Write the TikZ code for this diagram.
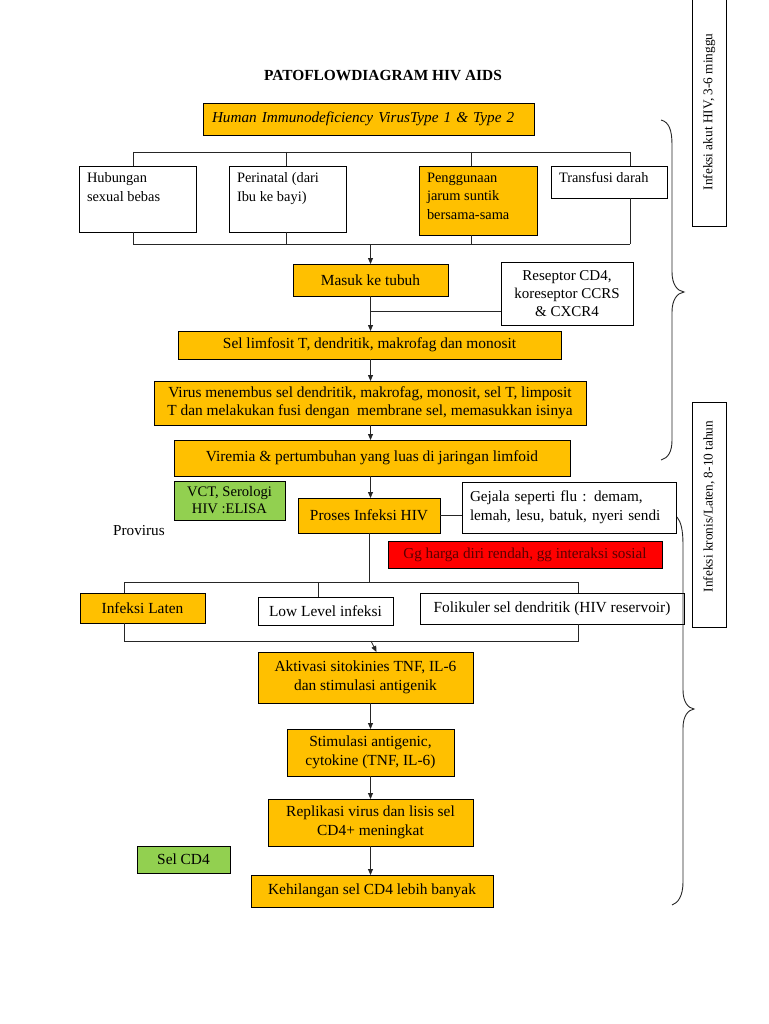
\documentclass[tikz,border=0pt]{standalone}
\usepackage{fontspec}
\setmainfont{Liberation Serif}
\usetikzlibrary{arrows.meta,calc}
\definecolor{gold}{HTML}{FFC000}
\definecolor{lgreen}{HTML}{92D050}
\definecolor{dred}{HTML}{5A0000}
\begin{document}
\begin{tikzpicture}[x=1pt,y=-1pt,
  box/.style={draw=black, line width=0.8pt, anchor=north west, inner sep=0pt, outer sep=0pt, align=center, font=\fontsize{15.4}{19}\selectfont},
  sz/.style 2 args={minimum width=#1pt, minimum height=#2pt},
  yel/.style={box, fill=gold},
  grn/.style={box, fill=lgreen},
  wht/.style={box, fill=white},
  conn/.style={draw=black!85, line width=0.8pt},
  arr/.style={conn, -{Triangle[length=6pt,width=5pt]}},
  brace/.style={draw=black!85, line width=0.9pt},
  sidebox/.style={draw=black, line width=0.8pt, fill=white, rotate=90, inner sep=0pt, font=\fontsize{13.3}{15}\selectfont}
]
\useasboundingbox[fill=white] (0,0) rectangle (768,1024);

% title and top box
\node[font=\fontsize{15.4}{19}\selectfont\bfseries] (title) at (383,76) {PATOFLOWDIAGRAM HIV AIDS};
\node[yel, sz={331}{32}, text width=313pt, align=left, font=\fontsize{15.2}{19}\selectfont\itshape] (hiv) at (203,103) {Human Immunodeficiency VirusType 1 \& Type 2};

% source boxes
\node[wht, sz={117}{66}] (s1) at (79,166) {\parbox[c][52pt][t]{101pt}{\raggedright\fontsize{14.4}{18.5}\selectfont Hubungan\\sexual bebas}};
\node[wht, sz={117}{66}] (s2) at (229,166) {\parbox[c][52pt][t]{101pt}{\raggedright\fontsize{14.4}{18.5}\selectfont Perinatal (dari\\Ibu ke bayi)}};
\node[yel, sz={118}{69}] (s3) at (419,166) {\parbox[c][55pt][t]{102pt}{\raggedright\fontsize{14.4}{18.5}\selectfont Penggunaan\\jarum suntik\\bersama-sama}};
\node[wht, sz={116}{32}] (s4) at (551,166) {\parbox[c][20pt][t]{100pt}{\raggedright\fontsize{14.4}{18.5}\selectfont Transfusi darah}};

% buses around sources
\coordinate (t1) at (133,152);
\coordinate (t2) at (286,152);
\coordinate (t3) at (471,152);
\coordinate (t4) at (630,152);
\coordinate (u1) at (133,244);
\coordinate (u4) at (630,244);
\draw[conn] (t1) -- (t4);
\draw[conn] (t1) -- (t1 |- s1.north);
\draw[conn] (t2) -- (t2 |- s2.north);
\draw[conn] (t3) -- (t3 |- s3.north);
\draw[conn] (t4) -- (t4 |- s4.north);
\draw[conn] (u1) -- (u4);
\draw[conn] (t1 |- s1.south) -- (u1);
\draw[conn] (t2 |- s2.south) -- (t2 |- u1);
\draw[conn] (t3 |- s3.south) -- (t3 |- u1);
\draw[conn] (t4 |- s4.south) -- (u4);

% main column
\node[yel, sz={155}{32}] (masuk) at (293,264) {Masuk ke tubuh};
\node[wht, sz={132}{63}, font=\fontsize{15}{18}\selectfont] (resep) at (501,262) {Reseptor CD4,\\koreseptor CCRS\\\& CXCR4};
\node[yel, sz={383}{28}] (limfo) at (178,331) {Sel limfosit T, dendritik, makrofag dan monosit};
\node[yel, sz={432}{44}, font=\fontsize{15.4}{18}\selectfont] (virus) at (154,381) {Virus menembus sel dendritik, makrofag, monosit, sel T, limposit\\T dan melakukan fusi dengan\ \ membrane sel, memasukkan isinya};
\node[yel, sz={396}{36}] (virem) at (174,440) {Viremia \& pertumbuhan yang luas di jaringan limfoid};
\node[grn, sz={111}{39}, font=\fontsize{14.6}{17}\selectfont] (vct) at (174,481) {VCT, Serologi\\HIV :ELISA};
\node[yel, sz={142}{35}] (proses) at (298,498) {Proses Infeksi HIV};
\node[wht, sz={214}{51}, text width=198pt, align=left, font=\fontsize{15.2}{19}\selectfont] (gejala) at (462,482) {Gejala seperti flu : demam,\\lemah, lesu, batuk, nyeri sendi};
\node[anchor=west, inner sep=0pt, font=\fontsize{15.2}{19}\selectfont] (prov) at (113,531) {Provirus};
\node[box, fill=red, sz={274}{27}, text=dred, font=\fontsize{15.2}{19}\selectfont] (gg) at (388,541) {Gg harga diri rendah, gg interaksi sosial};

\draw[arr] (u1 -| masuk.north) -- (masuk.north);
\coordinate (r1) at (501,311);
\draw[arr] (masuk.south) -- (masuk.south |- limfo.north);
\draw[conn] (resep.west |- r1) -- (masuk.south |- r1);
\draw[arr] (limfo.south -| masuk.south) -- (masuk.south |- virus.north);
\draw[arr] (virus.south -| masuk.south) -- (masuk.south |- virem.north);
\draw[arr] (virem.south -| masuk.south) -- (masuk.south |- proses.north);
\draw[conn] (proses.east) -- (proses.east -| gejala.west);

% second level
\node[yel, sz={125}{30}] (laten) at (80,593) {Infeksi Laten};
\node[wht, sz={135}{28}] (low) at (258,597) {Low Level infeksi};
\node[wht, sz={264}{31}] (folik) at (420,593) {Folikuler sel dendritik (HIV reservoir)};

\coordinate (p1) at (124,582);
\coordinate (pm) at (318,582);
\coordinate (p2) at (578,582);
\draw[conn] (proses.south) -- (proses.south |- p1);
\draw[conn] (p1) -- (p2);
\draw[conn] (p1) -- (p1 |- laten.north);
\draw[conn] (pm) -- (pm |- low.north);
\draw[conn] (p2) -- (p2 |- folik.north);
\coordinate (q1) at (124,641);
\coordinate (q2) at (578,641);
\coordinate (q3) at (371,641);
\draw[conn] (q1 |- laten.south) -- (q1) -- (q2) -- (q2 |- folik.south);

% lower column
\node[yel, sz={215}{51}] (aktiv) at (258,652) {Aktivasi sitokinies TNF, IL-6\\dan stimulasi antigenik};
\node[yel, sz={167}{47}] (stim) at (287,729) {Stimulasi antigenic,\\cytokine (TNF, IL-6)};
\node[yel, sz={205}{47}] (repl) at (268,799) {Replikasi virus dan lisis sel\\CD4+ meningkat};
\node[yel, sz={242}{32}] (kehil) at (251,875) {Kehilangan sel CD4 lebih banyak};
\node[grn, sz={93}{27}] (cd4) at (137,846) {Sel CD4};

\draw[arr] (q3) -- ([xshift=11pt]aktiv.north);
\draw[arr] (stim.north |- aktiv.south) -- (stim.north);
\draw[arr] (stim.south) -- (stim.south |- repl.north);
\draw[arr] (stim.south |- repl.south) -- (stim.south |- kehil.north);

% side boxes
\node[sidebox, minimum width=229pt, minimum height=34pt] (side1) at (709,112) {Infeksi akut HIV, 3-6 minggu};
\node[sidebox, minimum width=225pt, minimum height=34pt] (side2) at (709,514.5) {\hspace*{16pt}Infeksi kronis/Laten, 8-10 tahun};

% braces
\draw[brace] (661,120) .. controls (669,122) and (672,130) .. (672,145)
  -- (672,272) .. controls (672,284) and (677,291) .. (684,292)
  .. controls (677,293) and (672,300) .. (672,312)
  -- (672,440) .. controls (672,452) and (668,458) .. (661,460);
\draw[brace] (677,517) .. controls (681,522) and (683,530) .. (683,545)
  -- (683,690) .. controls (683,702) and (688,708) .. (694,709)
  .. controls (688,710) and (683,716) .. (683,728)
  -- (683,882) .. controls (683,896) and (678,903) .. (672,905);
\end{tikzpicture}
\end{document}
